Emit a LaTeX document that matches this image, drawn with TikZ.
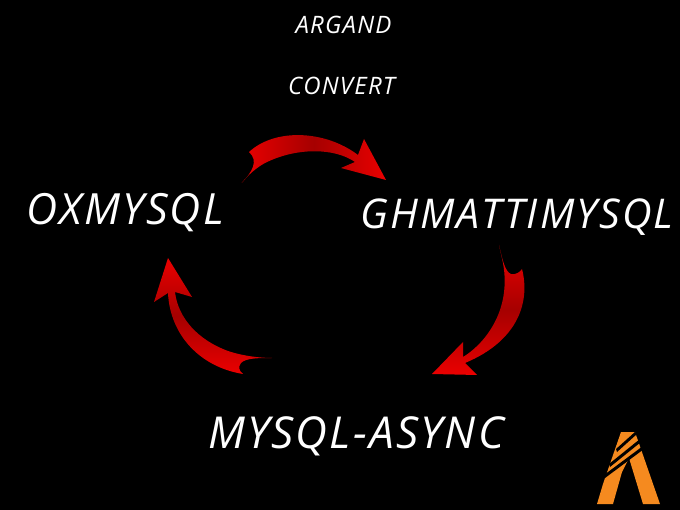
\documentclass[tikz,border=0pt]{standalone}
\usepackage{fontspec}
\setmainfont[LetterSpace=5]{Open Sans}
\usetikzlibrary{positioning}
\definecolor{logoorange}{HTML}{F58A1F}
\tikzset{
    lbl/.style={text=white, inner sep=0pt, font=\itshape\fontsize{#1}{#1}\selectfont},
    arrowbody/.style={draw=none, left color=#1, right color=#1, middle color=red!65!black},
    logopart/.style={fill=logoorange, draw=none},
    logogap/.style={fill=black, draw=none}
}
\begin{document}
\begin{tikzpicture}[x=1pt, y=-1pt]
    \useasboundingbox (0,0) rectangle (680,510);
    \fill[black] (0,0) rectangle (680,510);

    \node[lbl=24] (argand) at (343.5,25) {ARGAND};
    \node[lbl=24] (convert) at (341.5,86) {CONVERT};
    \node[lbl=43] (ox) at (125,213) {OXMYSQL};
    \node[lbl=41] (gh) at (517,217) {GHMATTIMYSQL};
    \node[lbl=44] (async) at (356,436) {MYSQL-ASYNC};

    % ends of the three arrows
    \coordinate (tail1) at (241.7,183);
    \coordinate (tip1) at (386,180);
    \coordinate (tail2) at (499,245);
    \coordinate (tip2) at (432,374);
    \coordinate (tail3) at (272,358);
    \coordinate (tip3) at (168,258);

    % ox to gh
    \path[arrowbody=red!92!black, shading angle=90] (tail1) .. controls (252,172) and (259,161) .. (249,152)
        .. controls (275,128) and (325,130) .. (358,155) -- (364,139) -- (tip1) -- (341,168) -- (355,162)
        .. controls (335,148) and (297,147) .. (265,163) .. controls (256,168) and (248,175) .. (tail1) -- cycle;
    % gh to async
    \path[arrowbody=red!92!black, shading angle=0] (tail2) .. controls (502,258) and (505,272) .. (511,274)
        .. controls (516,275) and (520,272) .. (522,269) .. controls (530,300) and (520,340) .. (465,363)
        -- (477,375) -- (tip2) -- (463,342) -- (463,357) .. controls (483,345) and (512,312) .. (503,263)
        -- (tail2) -- cycle;
    % async to ox
    \path[arrowbody=red!92!black, shading angle=0] (tail3) .. controls (258,358) and (246,358) .. (241,363)
        .. controls (238,367) and (239,371) .. (243,374) .. controls (200,367) and (170,335) .. (168,293)
        -- (154,302) -- (tip3) -- (192,297) -- (175,292) .. controls (178,318) and (198,340) .. (228,351)
        .. controls (243,356) and (260,358) .. (tail3) -- cycle;

    % logo
    \path[logopart] (621,432) -- (635,432) -- (660,504) -- (643,504) -- (629,458) -- (622,472) -- (613,504) -- (597,504) -- (603,484) -- cycle;
    \path[logogap] (616,449) -- (635,432) -- (637,434) -- (617,452) -- cycle;
    \path[logogap] (609,464) -- (640,439) -- (641,442) -- (610,467) -- cycle;
    \path[logogap] (604,475) -- (643,446) -- (644,449) -- (605,478) -- cycle;
\end{tikzpicture}
\end{document}
